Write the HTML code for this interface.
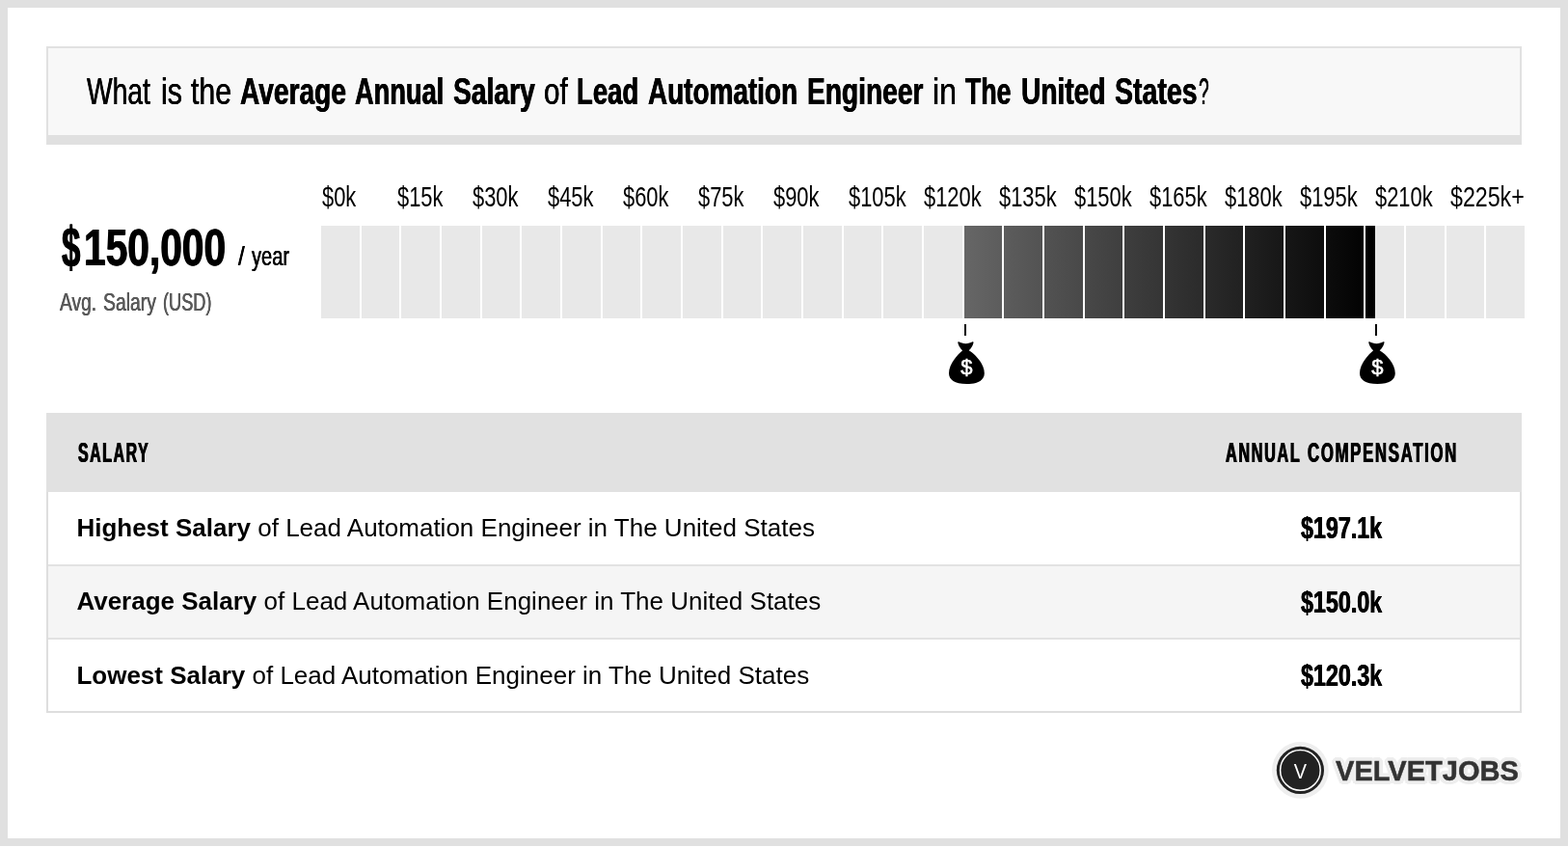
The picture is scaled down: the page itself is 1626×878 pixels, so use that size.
<!DOCTYPE html>
<html lang="en">
<head>
<meta charset="utf-8">
<title>Average Annual Salary of Lead Automation Engineer in The United States</title>
<style>
html,body{margin:0;padding:0;background:#fff;}
body{width:1626px;height:878px;overflow:hidden;position:relative;font-family:"Liberation Sans",Arial,Helvetica,sans-serif;color:#000;}
.frame{position:absolute;left:0;top:0;width:1626px;height:877px;box-sizing:border-box;border:8px solid #e0e0e0;}
.hdr{position:absolute;left:48px;top:48px;width:1530px;height:102px;box-sizing:border-box;border:2px solid #e1e1e1;border-bottom:10px solid #e0e0e0;background:#f8f8f8;}
h1{margin:0;font:inherit;font-weight:normal;}
.t{position:absolute;white-space:nowrap;line-height:1;transform-origin:0 0;display:block;}
.bar{position:absolute;left:333px;top:234px;width:1250px;height:96px;display:flex;background:#e8e8e8;overflow:hidden;}
.bar .fill{position:absolute;left:667px;top:0;width:426px;height:96px;background:linear-gradient(90deg,#666 0%,#000 100%);}
.bar i{position:relative;flex:1 1 0;border-right:2px solid #fff;box-sizing:border-box;}
.tick{position:absolute;top:336px;width:2px;height:12px;background:#000;}
.bag{position:absolute;top:354px;width:37px;height:44px;}
.tbl{position:absolute;left:48px;top:428px;width:1530px;height:311px;box-sizing:border-box;border:2px solid #dedede;border-top:0;background:#fff;}
.th{position:absolute;left:-2px;top:0;width:1530px;height:82px;background:#e1e1e1;}
.r2{position:absolute;left:0;top:158px;width:1526px;height:76px;background:#f5f5f5;}
.ln{position:absolute;left:0;width:1526px;height:2px;background:#e2e2e2;}
.row{position:absolute;left:79.4px;white-space:nowrap;font-size:26px;line-height:30px;}
.vj{position:absolute;left:1385px;top:784px;font-size:29.9px;line-height:1;font-weight:bold;color:#333;white-space:nowrap;transform-origin:0 0;transform:scaleX(.972);-webkit-text-stroke:.5px #333;text-shadow:4.2px 0.0px 0 #eee,4.0px 1.3px 0 #eee,3.4px 2.5px 0 #eee,2.5px 3.4px 0 #eee,1.3px 4.0px 0 #eee,0.0px 4.2px 0 #eee,-1.3px 4.0px 0 #eee,-2.5px 3.4px 0 #eee,-3.4px 2.5px 0 #eee,-4.0px 1.3px 0 #eee,-4.2px 0.0px 0 #eee,-4.0px -1.3px 0 #eee,-3.4px -2.5px 0 #eee,-2.5px -3.4px 0 #eee,-1.3px -4.0px 0 #eee,-0.0px -4.2px 0 #eee,1.3px -4.0px 0 #eee,2.5px -3.4px 0 #eee,3.4px -2.5px 0 #eee,4.0px -1.3px 0 #eee,2.2px 0.0px 0 #eee,1.8px 1.3px 0 #eee,0.7px 2.1px 0 #eee,-0.7px 2.1px 0 #eee,-1.8px 1.3px 0 #eee,-2.2px 0.0px 0 #eee,-1.8px -1.3px 0 #eee,-0.7px -2.1px 0 #eee,0.7px -2.1px 0 #eee,1.8px -1.3px 0 #eee;}
.lb{font-size:29.3px;transform:scaleX(0.7471)}
.logo{position:absolute;left:1310px;top:760px;width:280px;height:80px;}
</style>
</head>
<body>
<div class="frame"></div>
<div class="hdr"></div>
<div class="bar"><div class="fill"></div><i></i><i></i><i></i><i></i><i></i><i></i><i></i><i></i><i></i><i></i><i></i><i></i><i></i><i></i><i></i><i></i><i></i><i></i><i></i><i></i><i></i><i></i><i></i><i></i><i></i><i></i><i></i><i></i><i></i><i></i></div>
<div class="tick" style="left:1000px"></div>
<div class="tick" style="left:1426px"></div>
<svg class="bag" style="left:984px" viewBox="0 0 37 44"><path d="M10.3 .25C12.3 1.1 14.6 2.3 17.4 2.3C20.2 2.3 22.5 1.1 24.5 .25C25.3 0 25.7 .5 25.5 1.3C24.7 4.6 22.9 7.6 20.7 9.3C27 13 36.8 23 36.8 33C36.8 39.5 31 44 18.4 44C5.8 44 0 39.5 0 33C0 23 9.8 13 14.1 9.3C11.9 7.6 10.1 4.6 9.3 1.3C9.1 .5 9.5 0 10.3 .25Z" fill="#000"/><text x="18.3" y="34.4" font-family="Liberation Sans,Arial,sans-serif" font-size="22" fill="#fff" stroke="#fff" stroke-width=".55" text-anchor="middle">$</text></svg>
<svg class="bag" style="left:1410px" viewBox="0 0 37 44"><path d="M10.3 .25C12.3 1.1 14.6 2.3 17.4 2.3C20.2 2.3 22.5 1.1 24.5 .25C25.3 0 25.7 .5 25.5 1.3C24.7 4.6 22.9 7.6 20.7 9.3C27 13 36.8 23 36.8 33C36.8 39.5 31 44 18.4 44C5.8 44 0 39.5 0 33C0 23 9.8 13 14.1 9.3C11.9 7.6 10.1 4.6 9.3 1.3C9.1 .5 9.5 0 10.3 .25Z" fill="#000"/><text x="18.3" y="34.4" font-family="Liberation Sans,Arial,sans-serif" font-size="22" fill="#fff" stroke="#fff" stroke-width=".55" text-anchor="middle">$</text></svg>
<div class="tbl">
  <div class="th"></div>
  <div class="r2"></div>
  <div class="ln" style="top:157px"></div>
  <div class="ln" style="top:233px"></div>
</div>
<div class="row" style="top:532px"><b>Highest Salary</b> of Lead Automation Engineer in The United States</div>
<div class="row" style="top:608px"><b>Average Salary</b> of Lead Automation Engineer in The United States</div>
<div class="row" style="top:685px"><b>Lowest Salary</b> of Lead Automation Engineer in The United States</div>
<h1>
<span class="t" style="left:90.40px;top:75.25px;font-size:39.5px;transform:scaleX(0.7148);text-shadow:0.28px 0 0 #000,-0.28px 0 0 #000;">What</span>
<span class="t" style="left:166.91px;top:75.25px;font-size:39.5px;transform:scaleX(0.7654);text-shadow:0.26px 0 0 #000,-0.26px 0 0 #000;">is</span>
<span class="t" style="left:198.00px;top:75.25px;font-size:39.5px;transform:scaleX(0.7653);text-shadow:0.26px 0 0 #000,-0.26px 0 0 #000;">the</span>
<span class="t" style="left:248.51px;top:75.25px;font-size:39.5px;font-weight:bold;transform:scaleX(0.7119);text-shadow:0.49px 0 0 #000,-0.49px 0 0 #000;">Average</span>
<span class="t" style="left:368.02px;top:75.25px;font-size:39.5px;font-weight:bold;transform:scaleX(0.6891);text-shadow:0.51px 0 0 #000,-0.51px 0 0 #000;">Annual</span>
<span class="t" style="left:469.71px;top:75.25px;font-size:39.5px;font-weight:bold;transform:scaleX(0.7147);text-shadow:0.49px 0 0 #000,-0.49px 0 0 #000;">Salary</span>
<span class="t" style="left:564.27px;top:75.25px;font-size:39.5px;transform:scaleX(0.7506);text-shadow:0.27px 0 0 #000,-0.27px 0 0 #000;">of</span>
<span class="t" style="left:598.23px;top:75.25px;font-size:39.5px;font-weight:bold;transform:scaleX(0.6961);text-shadow:0.50px 0 0 #000,-0.50px 0 0 #000;">Lead</span>
<span class="t" style="left:671.91px;top:75.25px;font-size:39.5px;font-weight:bold;transform:scaleX(0.7068);text-shadow:0.50px 0 0 #000,-0.50px 0 0 #000;">Automation</span>
<span class="t" style="left:836.99px;top:75.25px;font-size:39.5px;font-weight:bold;transform:scaleX(0.7127);text-shadow:0.49px 0 0 #000,-0.49px 0 0 #000;">Engineer</span>
<span class="t" style="left:967.29px;top:75.25px;font-size:39.5px;transform:scaleX(0.8136);text-shadow:0.25px 0 0 #000,-0.25px 0 0 #000;">in</span>
<span class="t" style="left:1001.05px;top:75.25px;font-size:39.5px;font-weight:bold;transform:scaleX(0.6745);text-shadow:0.52px 0 0 #000,-0.52px 0 0 #000;">The</span>
<span class="t" style="left:1058.73px;top:75.25px;font-size:39.5px;font-weight:bold;transform:scaleX(0.7122);text-shadow:0.49px 0 0 #000,-0.49px 0 0 #000;">United</span>
<span class="t" style="left:1155.60px;top:75.25px;font-size:39.5px;font-weight:bold;transform:scaleX(0.7220);text-shadow:0.48px 0 0 #000,-0.48px 0 0 #000;">States</span>
<span class="t" style="left:1243.20px;top:75.25px;font-size:39.5px;transform:scaleX(0.4861);text-shadow:0.41px 0 0 #000,-0.41px 0 0 #000;">?</span>
</h1>
<div>
<span class="t lb" style="left:333.90px;top:189.25px">$0k</span>
<span class="t lb" style="left:411.90px;top:189.25px">$15k</span>
<span class="t lb" style="left:489.90px;top:189.25px">$30k</span>
<span class="t lb" style="left:567.90px;top:189.25px">$45k</span>
<span class="t lb" style="left:645.90px;top:189.25px">$60k</span>
<span class="t lb" style="left:723.90px;top:189.25px">$75k</span>
<span class="t lb" style="left:801.90px;top:189.25px">$90k</span>
<span class="t lb" style="left:879.90px;top:189.25px">$105k</span>
<span class="t lb" style="left:957.90px;top:189.25px">$120k</span>
<span class="t lb" style="left:1035.90px;top:189.25px">$135k</span>
<span class="t lb" style="left:1113.90px;top:189.25px">$150k</span>
<span class="t lb" style="left:1191.90px;top:189.25px">$165k</span>
<span class="t lb" style="left:1269.90px;top:189.25px">$180k</span>
<span class="t lb" style="left:1347.90px;top:189.25px">$195k</span>
<span class="t lb" style="left:1425.90px;top:189.25px">$210k</span>
<span class="t lb" style="left:1503.90px;top:189.25px;transform:scaleX(0.7918)">$225k+</span>
</div>
<div>
<span class="t" style="left:64.30px;top:228.25px;font-size:59px;font-weight:bold;transform:scaleX(0.5889);text-shadow:0.85px 0 0 #000,-0.85px 0 0 #000;">$</span><span class="t" style="left:86.86px;top:230.25px;font-size:54.5px;font-weight:bold;transform:scaleX(0.7466);text-shadow:0.67px 0 0 #000,-0.67px 0 0 #000;">150,000</span>
<span class="t" style="left:246.60px;top:251.25px;font-size:28.5px;transform:scaleX(0.8483);text-shadow:0.24px 0 0 #000,-0.24px 0 0 #000;">/</span>
<span class="t" style="left:261.20px;top:251.25px;font-size:28.5px;transform:scaleX(0.7052);text-shadow:0.28px 0 0 #000,-0.28px 0 0 #000;">year</span>
<span class="t" style="left:62.40px;top:300.25px;font-size:26.2px;color:#5a5a5a;transform:scaleX(0.7341);text-shadow:0.27px 0 0 #5a5a5a,-0.27px 0 0 #5a5a5a;">Avg.</span>
<span class="t" style="left:106.59px;top:300.25px;font-size:26.2px;color:#5a5a5a;transform:scaleX(0.7407);text-shadow:0.27px 0 0 #5a5a5a,-0.27px 0 0 #5a5a5a;">Salary</span>
<span class="t" style="left:169.15px;top:300.25px;font-size:26.2px;color:#5a5a5a;transform:scaleX(0.6939);text-shadow:0.29px 0 0 #5a5a5a,-0.29px 0 0 #5a5a5a;">(USD)</span>
</div>
<div>
<span class="t" style="left:80.55px;top:455.25px;font-size:29px;font-weight:bold;transform:scaleX(0.5482);letter-spacing:0.1em;text-shadow:0.73px 0 0 #000,-0.73px 0 0 #000;">SALARY</span>
<span class="t" style="left:1271.05px;top:455.25px;font-size:29px;font-weight:bold;transform:scaleX(0.5604);letter-spacing:0.1em;text-shadow:0.71px 0 0 #000,-0.71px 0 0 #000;">ANNUAL</span>
<span class="t" style="left:1355.78px;top:455.25px;font-size:29px;font-weight:bold;transform:scaleX(0.5789);letter-spacing:0.1em;text-shadow:0.69px 0 0 #000,-0.69px 0 0 #000;">COMPENSATION</span>
<span class="t" style="left:1348.65px;top:532.25px;font-size:31.1px;font-weight:bold;transform:scaleX(0.7486);text-shadow:0.47px 0 0 #000,-0.47px 0 0 #000;">$197.1k</span>
<span class="t" style="left:1348.65px;top:609.25px;font-size:31.1px;font-weight:bold;transform:scaleX(0.7494);text-shadow:0.47px 0 0 #000,-0.47px 0 0 #000;">$150.0k</span>
<span class="t" style="left:1348.65px;top:685.25px;font-size:31.1px;font-weight:bold;transform:scaleX(0.7494);text-shadow:0.47px 0 0 #000,-0.47px 0 0 #000;">$120.3k</span>
</div>
<svg class="logo" viewBox="0 0 280 80">
  <circle cx="38.4" cy="38.4" r="29.3" fill="#eeeeee"/>
  <circle cx="38.4" cy="38.4" r="24.6" fill="#222"/>
  <circle cx="38.4" cy="38.4" r="20.8" fill="none" stroke="#fff" stroke-width="1.5"/>
  <text transform="translate(38.4,47.2) scale(.88,1)" font-family="Liberation Sans,Arial,sans-serif" font-size="22.6" fill="#fff" text-anchor="middle">V</text>
</svg>
<span class="vj">VELVETJOBS</span>
</body>
</html>
